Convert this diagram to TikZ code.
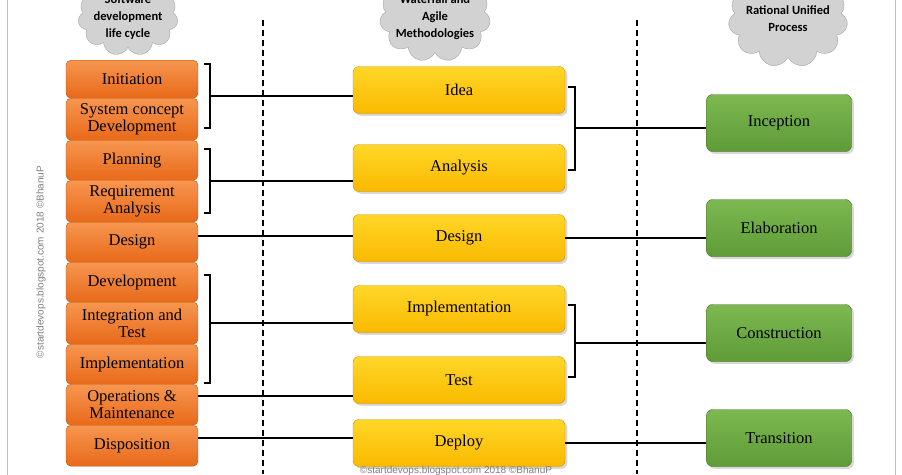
\documentclass[tikz,border=0pt]{standalone}
\usepackage{fontspec}
\setmainfont{Liberation Serif}
\newfontfamily\cloudfont{Carlito}
\newfontfamily\wmfont{Liberation Sans}
\usetikzlibrary{shapes.symbols,shadows}
\definecolor{orT}{RGB}{247,150,80}
\definecolor{orB}{RGB}{232,105,25}
\definecolor{yeT}{RGB}{255,215,40}
\definecolor{yeB}{RGB}{250,185,0}
\definecolor{grT}{RGB}{125,185,80}
\definecolor{grB}{RGB}{95,155,55}
\begin{document}
\begin{tikzpicture}[x=1pt,y=-1pt,
  lbox/.style={draw=orB!80!black,rounded corners=5pt,top color=orT,bottom color=orB,minimum width=132pt,align=center,font=\fontsize{16.5}{17.5}\selectfont,inner sep=1pt},
  mbox/.style={draw=yeB!80!black,rounded corners=6pt,top color=yeT,bottom color=yeB,minimum width=212pt,minimum height=47pt,font=\fontsize{16.5}{18}\selectfont,drop shadow={opacity=0.3}},
  rbox/.style={draw=grB!70!black,rounded corners=6pt,top color=grT,bottom color=grB,minimum width=145pt,minimum height=57pt,font=\fontsize{16.5}{18}\selectfont,drop shadow={opacity=0.3}},
  cl/.style={cloud,cloud puffs=11,aspect=1.4,draw=gray!70,fill=gray!35,align=center,font=\cloudfont\bfseries\fontsize{12.5}{17}\selectfont,inner sep=-4pt,minimum width=100pt,minimum height=70pt},
  con/.style={line width=2pt},
  br/.style={line width=1.4pt},
  dl/.style={line width=1.2pt,dash pattern=on 6pt off 4pt}]
\useasboundingbox (0,0) rectangle (902,474);
\fill[white] (0,0) rectangle (902,474);
\draw[gray!50] (7,-1) -- (7,475) (895,-1) -- (895,475);
% clouds
\node[cl] (c1) at (128,17) {Software\\development\\life cycle};
\node[cl] (c2) at (435,17) {Waterfall and\\Agile\\Methodologies};
\node[cl] (c3) at (788,19) {Rational Unified\\Process};
% dashed separators
\coordinate (d1t) at (263,20); \coordinate (d1b) at (263,474);
\coordinate (d2t) at (637,20); \coordinate (d2b) at (637,474);
\draw[dl] (d1t) -- (d1b); \draw[dl] (d2t) -- (d2b);
% left boxes
\foreach \n/\t/\yy/\h in {l1/Initiation/60/38,l2/{System concept\\Development}/98/42,l3/Planning/140/40,l4/{Requirement\\Analysis}/180/42,l5/Design/222/40,l6/Development/262/40,l7/{Integration and\\Test}/302/42,l8/Implementation/344/40,l9/{Operations \&\\Maintenance}/384/41,l10/Disposition/425/41}
  \node[lbox,minimum height=\h pt,anchor=north] (\n) at (132,\yy) {\t};
% middle boxes
\node[mbox] (m1) at (459,90) {Idea};
\node[mbox] (m2) at (459,168) {Analysis};
\node[mbox] (m3) at (459,238) {Design};
\node[mbox] (m4) at (459,309) {Implementation};
\node[mbox] (m5) at (459,380) {Test};
\node[mbox] (m6) at (459,443) {Deploy};
% right boxes
\node[rbox] (r1) at (779,123) {Inception};
\node[rbox] (r2) at (779,228) {Elaboration};
\node[rbox] (r3) at (779,333) {Construction};
\node[rbox] (r4) at (779,438) {Transition};
% left brackets
\draw[br] (204,64) -- (210,64) -- (210,128) -- (204,128);
\draw[con] (210,96) -- (m1.west|-0,96);
\draw[br] (204,149) -- (210,149) -- (210,213) -- (204,213);
\draw[con] (210,181) -- (m2.west|-0,181);
\draw[con] (l5.east|-0,236) -- (m3.west|-0,236);
\draw[br] (204,275) -- (210,275) -- (210,383) -- (204,383);
\draw[con] (210,323) -- (m4.west|-0,323);
\draw[con] (l9.east|-0,396) -- (m5.west|-0,396);
\draw[con] (l10.east|-0,438) -- (m6.west|-0,438);
% right brackets
\draw[br] (568,87) -- (575,87) -- (575,170) -- (568,170);
\draw[con] (575,128) -- (r1.west|-0,128);
\draw[con] (m3.east|-0,238) -- (r2.west|-0,238);
\draw[br] (568,305) -- (575,305) -- (575,377) -- (568,377);
\draw[con] (575,343) -- (r3.west|-0,343);
\draw[con] (m6.east|-0,443) -- (r4.west|-0,443);
% watermarks
\node[rotate=90,text=gray,font=\wmfont\fontsize{10}{11}\selectfont] (w1) at (41,262) {©startdevops.blogspot.com 2018 ©BhanuP};
\node[text=gray,font=\wmfont\fontsize{10}{11}\selectfont] (w2) at (456,471) {©startdevops.blogspot.com 2018 ©BhanuP};
\end{tikzpicture}
\end{document}
